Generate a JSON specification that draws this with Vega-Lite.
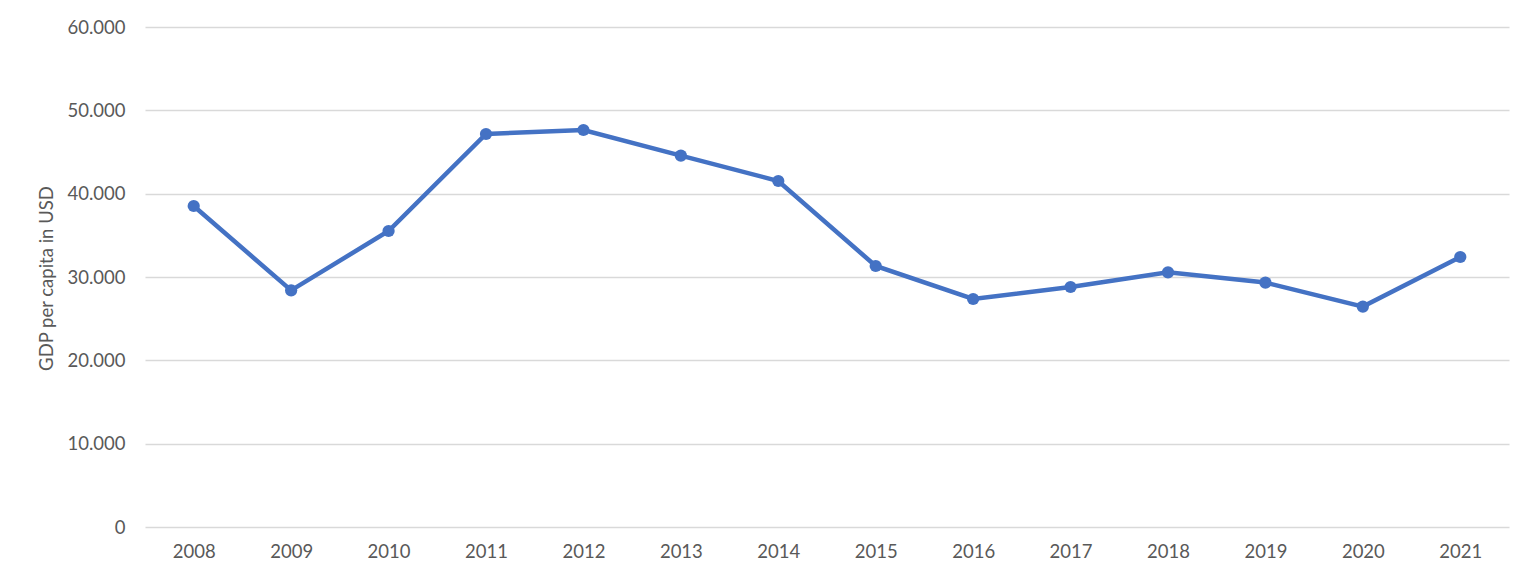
{
  "$schema": "https://vega.github.io/schema/vega-lite/v6.json",
  "width": 1364,
  "height": 500,
  "autosize": {"type": "none"},
  "padding": {"left": 145, "top": 27, "right": 27, "bottom": 56},
  "background": "white",
  "config": {
    "font": "Lato",
    "view": {"stroke": null},
    "axis": {"labelFont": "Lato", "titleFont": "Lato", "labelColor": "#595959", "titleColor": "#595959", "labelFontSize": 18.5, "titleFontSize": 18.5, "titleFontWeight": "normal", "domain": false, "ticks": false}
  },
  "data": {
    "values": [
      {"year": "2008", "gdp": 38520},
      {"year": "2009", "gdp": 28400},
      {"year": "2010", "gdp": 35520},
      {"year": "2011", "gdp": 47160},
      {"year": "2012", "gdp": 47640},
      {"year": "2013", "gdp": 44570},
      {"year": "2014", "gdp": 41520},
      {"year": "2015", "gdp": 31320},
      {"year": "2016", "gdp": 27360},
      {"year": "2017", "gdp": 28800},
      {"year": "2018", "gdp": 30560},
      {"year": "2019", "gdp": 29330},
      {"year": "2020", "gdp": 26450},
      {"year": "2021", "gdp": 32400}
    ]
  },
  "encoding": {
    "x": {
      "field": "year", "type": "ordinal",
      "scale": {"type": "point", "padding": 0.5},
      "axis": {"title": null, "labelAngle": 0, "labelPadding": 15, "grid": false}
    },
    "y": {
      "field": "gdp", "type": "quantitative",
      "scale": {"domain": [0, 60000], "nice": false},
      "axis": {
        "title": "GDP per capita in USD",
        "values": [0, 10000, 20000, 30000, 40000, 50000, 60000],
        "labelExpr": "replace(format(datum.value, ','), ',', '.')",
        "labelPadding": 20,
        "grid": true, "gridColor": "#d9d9d9", "gridWidth": 1.3,
        "titleX": -99, "titleY": 251, "titleAngle": -90, "titleAlign": "center", "titleBaseline": "middle"
      }
    }
  },
  "layer": [
    {"mark": {"type": "line", "color": "#4472C4", "strokeWidth": 4.5}},
    {"mark": {"type": "point", "filled": true, "color": "#4472C4", "opacity": 1, "size": 150}}
  ]
}
